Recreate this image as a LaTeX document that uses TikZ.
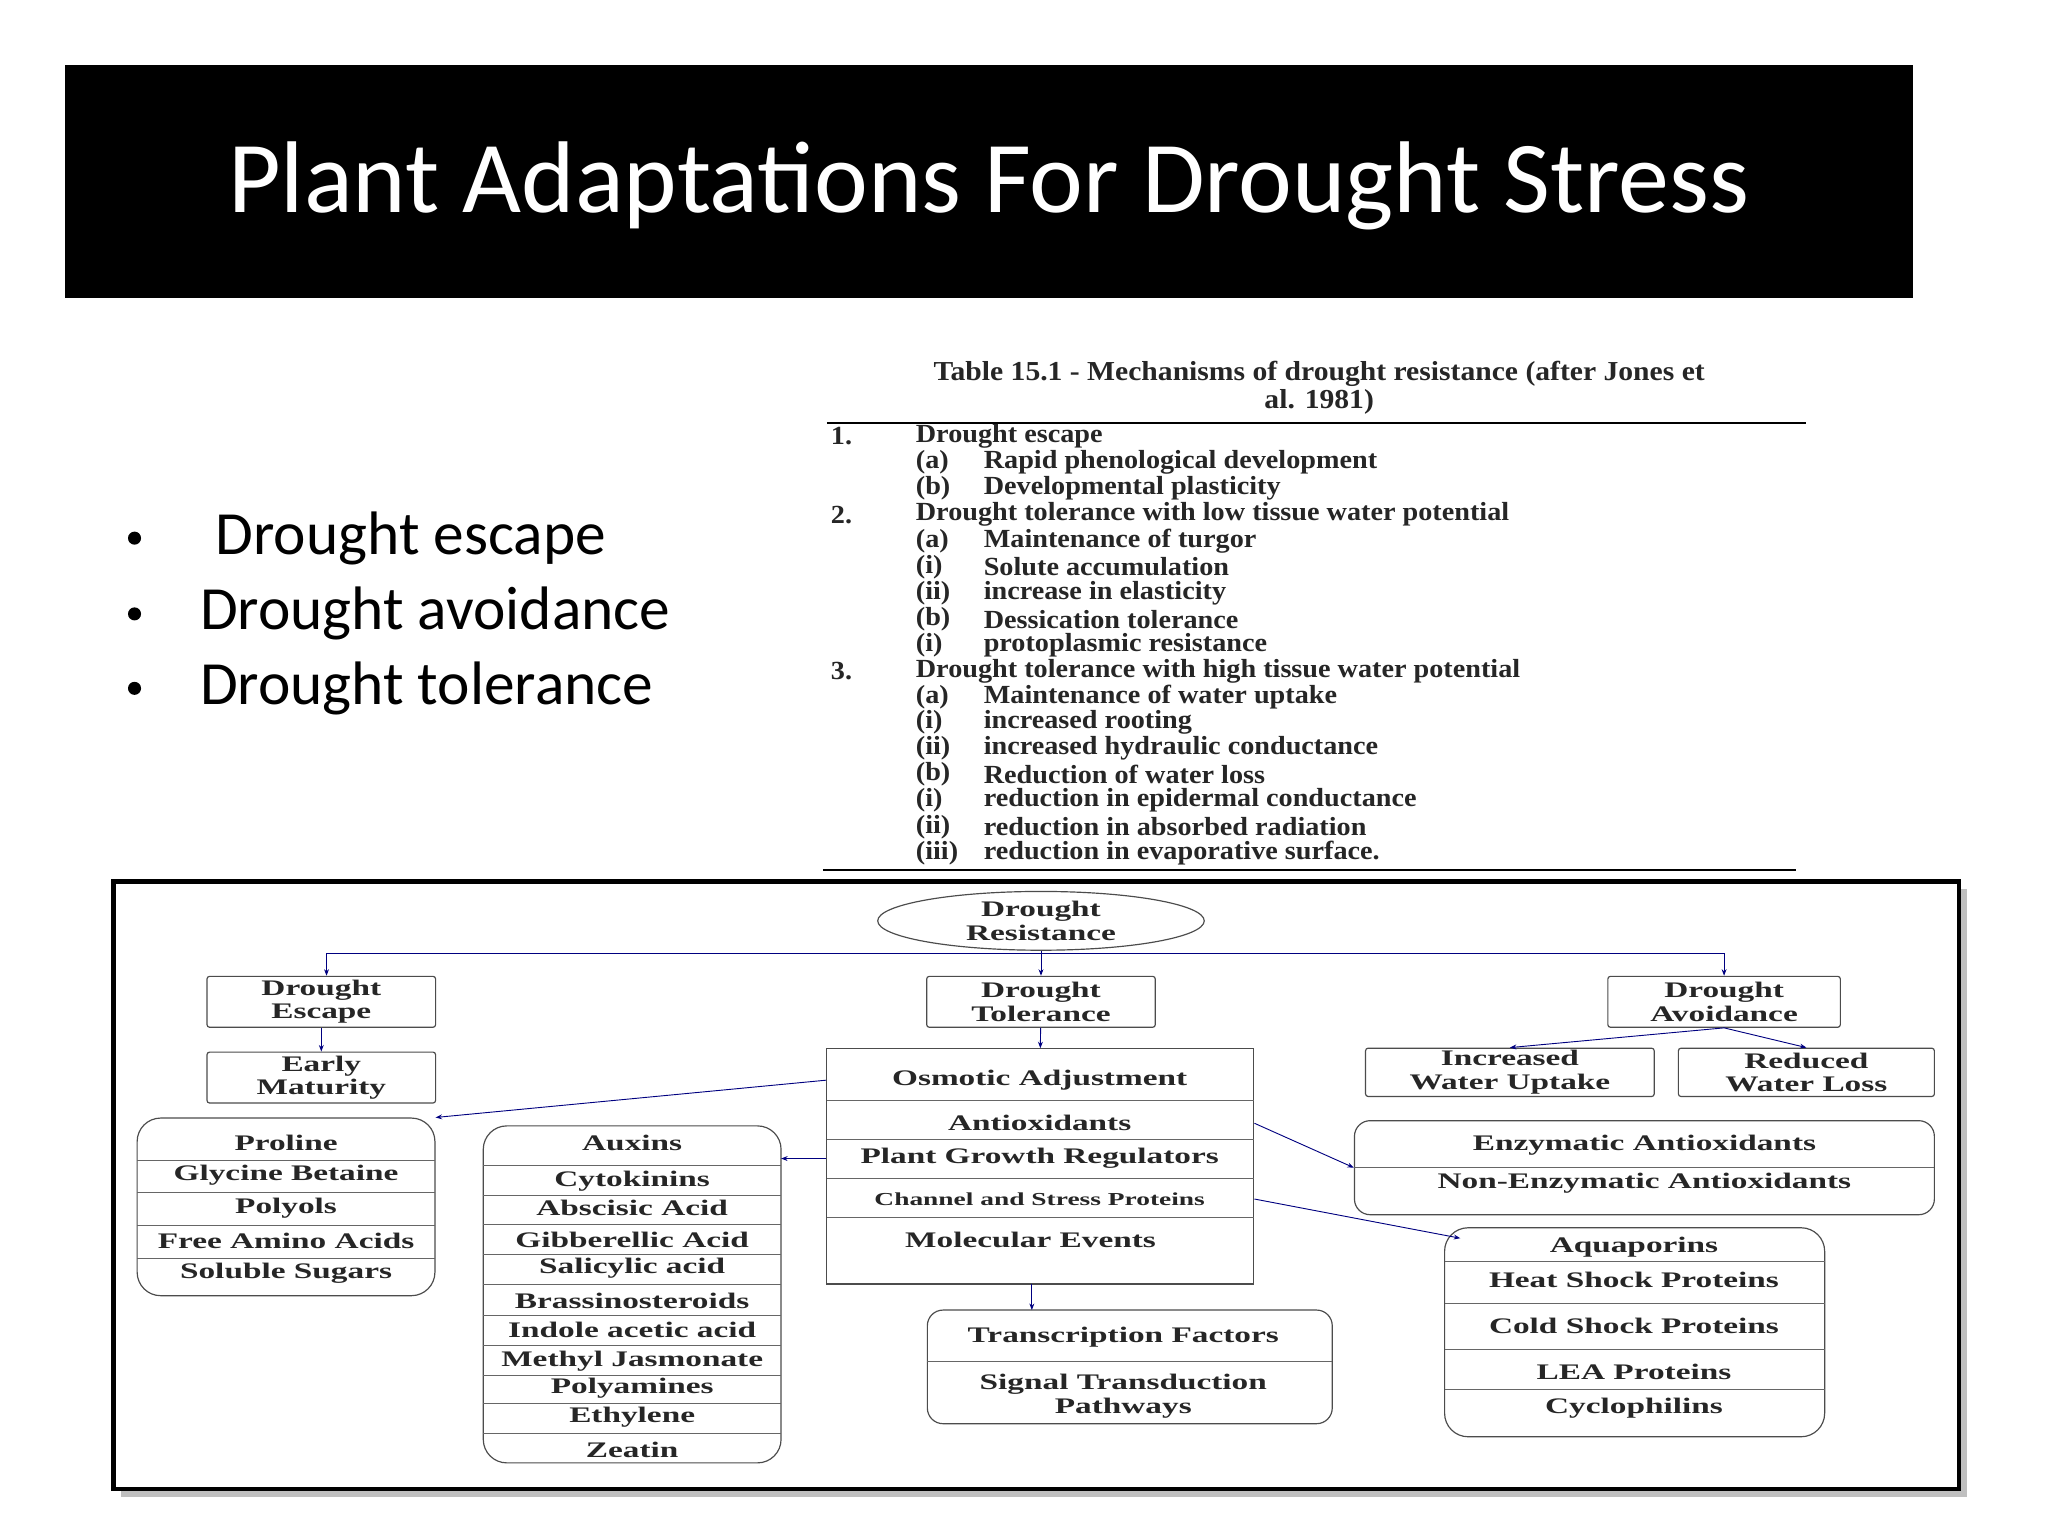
\documentclass[tikz,border=0pt]{standalone}
\usepackage{fontspec}
\setmainfont{Liberation Serif}
\newfontfamily\titlefont{Carlito}
\newfontfamily\dfont[FakeStretch=1.5]{Liberation Serif}
\newfontfamily\tfont[FakeStretch=1.08]{Liberation Serif}
\usetikzlibrary{shapes.geometric,arrows.meta}
\begin{document}
\begin{tikzpicture}[x=1pt,y=-1pt,
  dtxt/.style={font=\dfont\fontsize{17}{18}\selectfont\bfseries,align=center,inner sep=0pt,text=black!85},
  ttxt/.style={font=\tfont\fontsize{20}{21}\selectfont\bfseries,anchor=west,inner sep=0pt,text=black!85},
  bxx/.style={draw=black!70,line width=0.9pt},
  arr/.style={draw=blue!50!black,line width=0.7pt,-{Stealth[length=5pt]}},
  bl/.style={font=\titlefont\fontsize{47}{49}\selectfont,anchor=west,inner sep=0pt}]
\useasboundingbox (0,0) rectangle (1568,1176);
\fill[white] (0,0) rectangle (1568,1176);
% title
\fill[black] (50,50) rectangle (1465,228);
\node[text=white,font=\titlefont\fontsize{78}{80}\selectfont] (title) at (757,142) {Plant Adaptations For Drought Stress};
% bullets
\foreach \y/\t/\x in {412/Drought escape/165,470/Drought avoidance/153,527/Drought tolerance/153}{
  \fill (103,\y) circle (5pt);
  \node[bl] at (\x,\y) {\t};}
% table
\node[font=\tfont\fontsize{21}{21}\selectfont\bfseries,align=center,text=black!85] (tt) at (1010,297) {Table 15.1 - Mechanisms of drought resistance (after Jones et\\ al. 1981)};
\draw[line width=1.3pt] (633,324) -- (1383,324);
\draw[line width=1.3pt] (630,666) -- (1375,666);
\foreach \y/\n/\a/\t in {
 334/1./Drought escape/,
 354//(a)/Rapid phenological development,
 374//(b)/Developmental plasticity,
 394/2./Drought tolerance with low tissue water potential/,
 414//(a)/Maintenance of turgor,
 434//(i)/Solute accumulation,
 454//(ii)/increase in elasticity,
 474//(b)/Dessication tolerance,
 494//(i)/protoplasmic resistance,
 514/3./Drought tolerance with high tissue water potential/,
 534//(a)/Maintenance of water uptake,
 553//(i)/increased rooting,
 573//(ii)/increased hydraulic conductance,
 593//(b)/Reduction of water loss,
 613//(i)/reduction in epidermal conductance,
 633//(ii)/reduction in absorbed radiation,
 653//(iii)/reduction in evaporative surface.}{
 \node[ttxt] at (636,\y) {\n};
 \node[ttxt] at (701,\y) {\a};
 \node[ttxt] at (753,\y) {\t};}
% frame
\fill[black!25] (93,681) rectangle (1506,1146);
\fill[white] (87,675) rectangle (1500,1140);
\draw[line width=3.5pt] (87,675) rectangle (1500,1140);
% diagram
\node[ellipse,bxx,minimum width=250pt,minimum height=45pt,dtxt] (res) at (797,705) {Drought\\Resistance};
\node[bxx,rounded corners=2pt,minimum width=175pt,minimum height=39pt,dtxt] (esc) at (246,767) {Drought\\Escape};
\node[bxx,rounded corners=2pt,minimum width=175pt,minimum height=39pt,dtxt] (early) at (246,825) {Early\\Maturity};
\node[bxx,rounded corners=2pt,minimum width=175pt,minimum height=39pt,dtxt] (tol) at (797,767) {Drought\\Tolerance};
\node[bxx,rounded corners=2pt,minimum width=178pt,minimum height=39pt,dtxt] (avo) at (1320,767) {Drought\\Avoidance};
\node[bxx,rounded corners=2pt,minimum width=221pt,minimum height=37pt,dtxt] (iwu) at (1156,821) {Increased\\Water Uptake};
\node[bxx,rounded corners=2pt,minimum width=196pt,minimum height=37pt,dtxt] (rwl) at (1383,821) {Reduced\\Water Loss};
\coordinate (hl) at (250,730); \coordinate (hr) at (1320,730); \coordinate (hm) at (797,730);
\draw[blue!50!black,line width=0.7pt] (res.south) -- (hm);
\draw[blue!50!black,line width=0.7pt] (hl) -- (hr);
\draw[arr] (hl) -- (esc.north -| hl);
\draw[arr] (hm) -- (tol.north);
\draw[arr] (hr) -- (avo.north);
\draw[arr] (esc) -- (early);
\draw[arr] (avo.south) -- (iwu.north);
\draw[arr] (avo.south) -- (rwl.north);
% central box
\node[bxx,minimum width=327pt,minimum height=180pt] (cen) at (796.5,893) {};
\foreach \y in {842,872,902,932} \draw[black!60] (633,\y) -- (960,\y);
\node[dtxt] (osm) at (796,827) {Osmotic Adjustment};
\node[dtxt] (ant) at (796,860) {Antioxidants};
\node[dtxt] (pgr) at (796,887) {Plant Growth Regulators};
\node[dtxt,font=\dfont\fontsize{14}{15}\selectfont\bfseries] (csp) at (796,918) {Channel and Stress Proteins};
\node[dtxt] (mol) at (789,949) {Molecular Events};
\draw[arr] (tol) -- (cen.north);
% proline
\node[bxx,rounded corners=18pt,minimum width=228pt,minimum height=136pt] (pro) at (219,924) {};
\foreach \y in {888,913,938,963} \draw[black!60] (105,\y) -- (333,\y);
\foreach \y/\t in {875/Proline,900/Glycine Betaine,925/Polyols,950/Free Amino Acids,975/Soluble Sugars} \node[dtxt] at (219,\y) {\t};
% auxins
\node[bxx,rounded corners=18pt,minimum width=228pt,minimum height=258pt] (aux) at (484,991) {};
\foreach \y in {892,915,937,960,983,1007,1030,1053,1074,1097} \draw[black!60] (370,\y) -- (598,\y);
\foreach \y/\t in {875/Auxins,904/Cytokinins,925/Abscisic Acid,949/Gibberellic Acid,971/Salicylic acid,996/Brassinosteroids,1018/Indole acetic acid,1042/Methyl Jasmonate,1063/Polyamines,1085/Ethylene,1110/Zeatin} \node[dtxt] at (484,\y) {\t};
% enzymatic
\node[bxx,rounded corners=12pt,minimum width=444pt,minimum height=72pt] (enz) at (1259,894) {};
\draw[black!60] (1037,894) -- (1481,894);
\node[dtxt] at (1259,877) {Enzymatic Antioxidants};
\node[dtxt] at (1259,906) {Non-Enzymatic Antioxidants};
% aquaporins
\node[bxx,rounded corners=18pt,minimum width=291pt,minimum height=160pt] (aqu) at (1251.5,1020) {};
\foreach \y in {966,998,1033,1064} \draw[black!60] (1106,\y) -- (1397,\y);
\foreach \y/\t in {955/Aquaporins,980/Heat Shock Proteins,1015/Cold Shock Proteins,1050/LEA Proteins,1078/Cyclophilins} \node[dtxt] at (1251,\y) {\t};
% transcription
\node[bxx,rounded corners=12pt,minimum width=310pt,minimum height=87pt] (tra) at (865,1046.5) {};
\draw[black!60] (710,1042) -- (1020,1042);
\node[dtxt] at (860,1024) {Transcription Factors};
\node[dtxt] at (860,1069) {Signal Transduction\\Pathways};
% cross arrows
\draw[arr] (cen.west |- osm) -- (pro.north east);
\draw[arr] (cen.west |- pgr) -- (598,887);
\draw[arr] (cen.east |- ant) -- (enz.west);
\draw[arr] (cen.east |- csp) -- (1118,948);
\draw[arr] (790,983) -- (790,1003);
\end{tikzpicture}
\end{document}
